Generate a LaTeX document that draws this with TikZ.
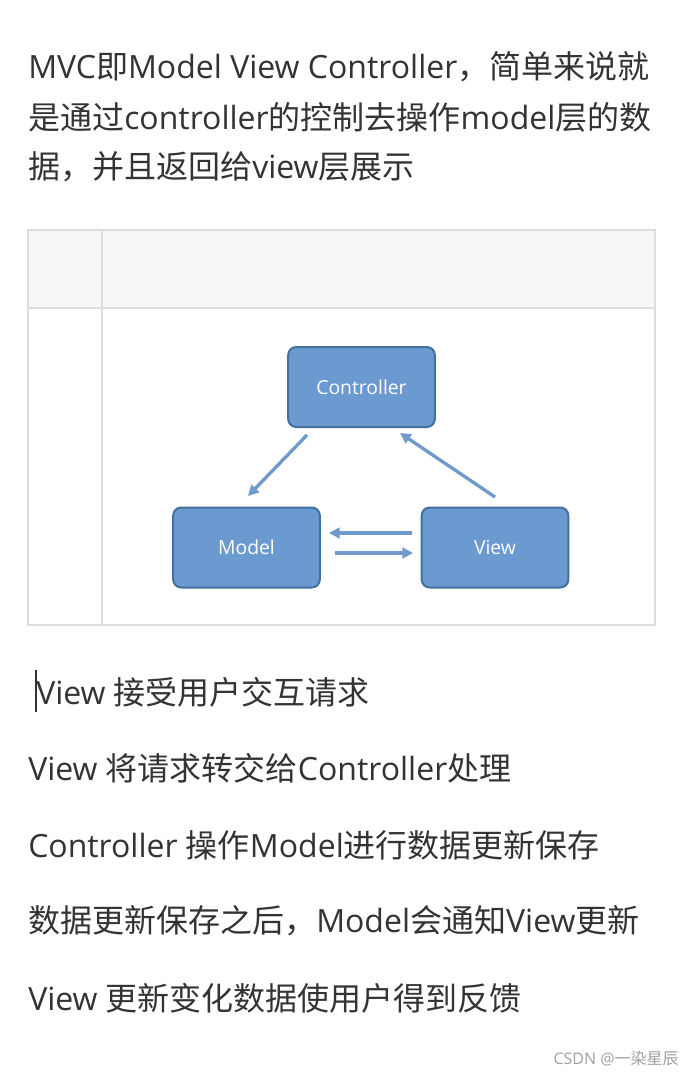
\documentclass[tikz,border=0pt]{standalone}
\usepackage{fontspec}
\setmainfont{Open Sans}
\newfontfamily\cj{Noto Sans CJK SC}
\usetikzlibrary{arrows.meta}
\definecolor{txt}{HTML}{333333}
\definecolor{boxf}{HTML}{6A9AD0}
\definecolor{boxd}{HTML}{41719C}
\definecolor{arr}{HTML}{6F9ACB}
\definecolor{grid}{HTML}{DDDDDD}
\definecolor{head}{HTML}{F7F7F7}
\begin{document}
\begin{tikzpicture}[x=0.75pt,y=-0.75pt,
  para/.style={anchor=west,inner sep=0,text=txt,font=\fontsize{24}{30}\selectfont},
  mvc/.style={draw=boxd,line width=1.5pt,fill=boxf,rounded corners=6pt,minimum width=110pt,minimum height=60pt,text=white,font=\fontsize{14.5}{16}\selectfont},
  conn/.style={draw=arr,line width=2.5pt,-{Triangle[length=8pt,width=8pt]}}]
\useasboundingbox (0,0) rectangle (694,1079);
\fill[white] (0,0) rectangle (694,1079);
\node[para] (l1) at (28,67) {MVC{\cj 即}Model View Controller{\cj ，简单来说就}};
\node[para] (l2) at (28,117) {{\cj 是通过}controller{\cj 的控制去操作}model{\cj 层的数}};
\node[para] (l3) at (28,167) {{\cj 据，并且返回给}view{\cj 层展示}};
% table
\fill[head] (28,230) rectangle (655,308);
\draw[grid,line width=1pt] (28,230) rectangle (655,625) (28,308) -- (655,308) (102,230) -- (102,625);
\node[mvc] (c) at (361.5,387) {Controller};
\node[mvc] (m) at (246.5,547.5) {Model};
\node[mvc] (v) at (495,547.5) {View};
\coordinate (a1) at (307,435); \coordinate (b1) at (248,496);
\coordinate (a2) at (495,497); \coordinate (b2) at (400,433);
\coordinate (a3) at (412,533); \coordinate (b3) at (329,533);
\coordinate (a4) at (335,553); \coordinate (b4) at (413,553);
\draw[conn] (a1) -- (b1);
\draw[conn] (a2) -- (b2);
\draw[conn] (a3) -- (b3);
\draw[conn] (a4) -- (b4);
\draw[txt,line width=0.8pt] (36,670) -- (36,712);
\node[para] (t1) at (36,692) {View {\cj 接受用户交互请求}};
\node[para] (t2) at (28,768) {View {\cj 将请求转交给}Controller{\cj 处理}};
\node[para] (t3) at (28,845) {Controller {\cj 操作}Model{\cj 进行数据更新保存}};
\node[para] (t4) at (28,921) {{\cj 数据更新保存之后，}Model{\cj 会通知}View{\cj 更新}};
\node[para] (t5) at (28,998) {View {\cj 更新变化数据使用户得到反馈}};
\node[anchor=east,inner sep=0,text={rgb,255:red,160;green,160;blue,160},font=\fontsize{12}{14}\selectfont] (w) at (679,1058) {CSDN @{\cj 一染星辰}};
\end{tikzpicture}
\end{document}
